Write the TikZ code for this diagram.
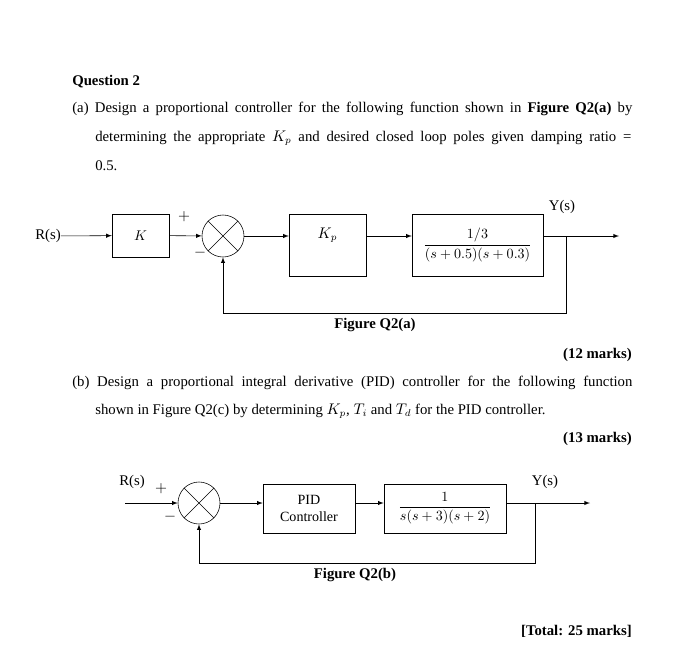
\documentclass[tikz,border=0pt]{standalone}
\usepackage{amsmath}
\usepackage{fontspec}
\setmainfont{Liberation Serif}
\usetikzlibrary{arrows}
\tikzstyle{blk}=[rectangle,draw,fill=white,inner sep=1pt,align=center]
\tikzstyle{sumn}=[circle,draw,minimum size=1.05cm,inner sep=0pt]
\tikzstyle{lbl}=[inner sep=0pt,font=\fontsize{10.5}{12}\selectfont]
\tikzstyle{txt}=[inner sep=0pt,anchor=base west,font=\fontsize{10.5}{12}\selectfont]
\newcommand{\jline}[1]{\makebox[13.4cm][s]{#1}}
\begin{document}
\begin{tikzpicture}[x=0.025cm,y=-0.025cm]
\useasboundingbox (0,0) rectangle (700,647);

%Question text
\node [txt] at (72,85) (q) {\textbf{Question 2}};
\node [txt] at (72,112) (a1) {\makebox[14cm][s]{(a) Design a proportional controller for the following function shown in \textbf{Figure Q2(a)} by}};
\node [txt] at (95,141) (a2) {\jline{determining the appropriate $K_p$ and desired closed loop poles given damping ratio =}};
\node [txt] at (95,170) (a3) {0.5.};

%Figure Q2(a)
\node [lbl] at (48,236) (ra) {R(s)};
\node [blk,minimum width=1.42cm,minimum height=1.07cm] at (140.5,235.5) (ka) {$K$};
\node [sumn] at (223,236) (sa) {};
\draw (sa.45) -- (sa.225) (sa.135) -- (sa.315);
\node [blk,minimum width=1.92cm,minimum height=1.55cm] at (327.5,245) (kpa) {};
\node [lbl] at (327.5,235) (kpt) {$K_p$};
\node [blk,minimum width=3.27cm,minimum height=1.55cm] at (477.5,245) (ga) {$\dfrac{1/3}{(s+0.5)(s+0.3)}$};
\coordinate (ya) at (619,236);
\coordinate (ba) at (566,236);
\node [lbl] at (562,207) (yla) {Y(s)};
\node [lbl] at (184,217) (pa) {$+$};
\node [lbl] at (200,253) (ma) {$-$};

\draw [->,>=latex] (ra) -- (ka);
\draw [->,>=latex] (ka) -- (sa);
\draw [->,>=latex] (sa) -- (sa -| kpa.west);
\draw [->,>=latex] (kpa.east |- sa) -- (ga.west |- sa);
\draw [->,>=latex] (ga.east |- sa) -- (ya);
\draw [->,>=latex] (ba) |- (223,313) -- (sa.south);

\node [lbl,font=\fontsize{10.5}{12}\selectfont\bfseries] at (375,325) (fa) {Figure Q2(a)};
\node [txt,anchor=base east] at (632,358) (m12) {\textbf{(12 marks)}};

\node [txt] at (72,386) (b1) {\makebox[14cm][s]{(b) Design a proportional integral derivative (PID) controller for the following function}};
\node [txt] at (95,414) (b2) {shown in Figure Q2(c) by determining $K_p$, $T_i$ and $T_d$ for the PID controller.};
\node [txt,anchor=base east] at (632,442) (m13) {\textbf{(13 marks)}};

%Figure Q2(b)
\node [lbl] at (132,482) (rb) {R(s)};
\coordinate (ib) at (125,503);
\node [sumn] at (199,503) (sb) {};
\draw (sb.45) -- (sb.225) (sb.135) -- (sb.315);
\node [blk,minimum width=2.3cm,minimum height=1.23cm] at (309,508.5) (pid) {PID\\Controller};
\node [blk,minimum width=3.05cm,minimum height=1.23cm] at (445,508.5) (gb) {$\dfrac{1}{s(s+3)(s+2)}$};
\coordinate (yb) at (590,503);
\coordinate (bb) at (535,503);
\node [lbl] at (545,482) (ylb) {Y(s)};
\node [lbl] at (161,489) (pb) {$+$};
\node [lbl] at (170,517) (mb) {$-$};

\draw [->,>=latex] (ib) -- (sb);
\draw [->,>=latex] (sb) -- (sb -| pid.west);
\draw [->,>=latex] (pid.east |- sb) -- (gb.west |- sb);
\draw [->,>=latex] (gb.east |- sb) -- (yb);
\draw [->,>=latex] (bb) |- (199,563) -- (sb.south);

\node [lbl,font=\fontsize{10.5}{12}\selectfont\bfseries] at (355,575) (fb) {Figure Q2(b)};
\node [txt,anchor=base east] at (632,635) (tot) {\textbf{[Total: 25 marks]}};
\end{tikzpicture}
\end{document}
